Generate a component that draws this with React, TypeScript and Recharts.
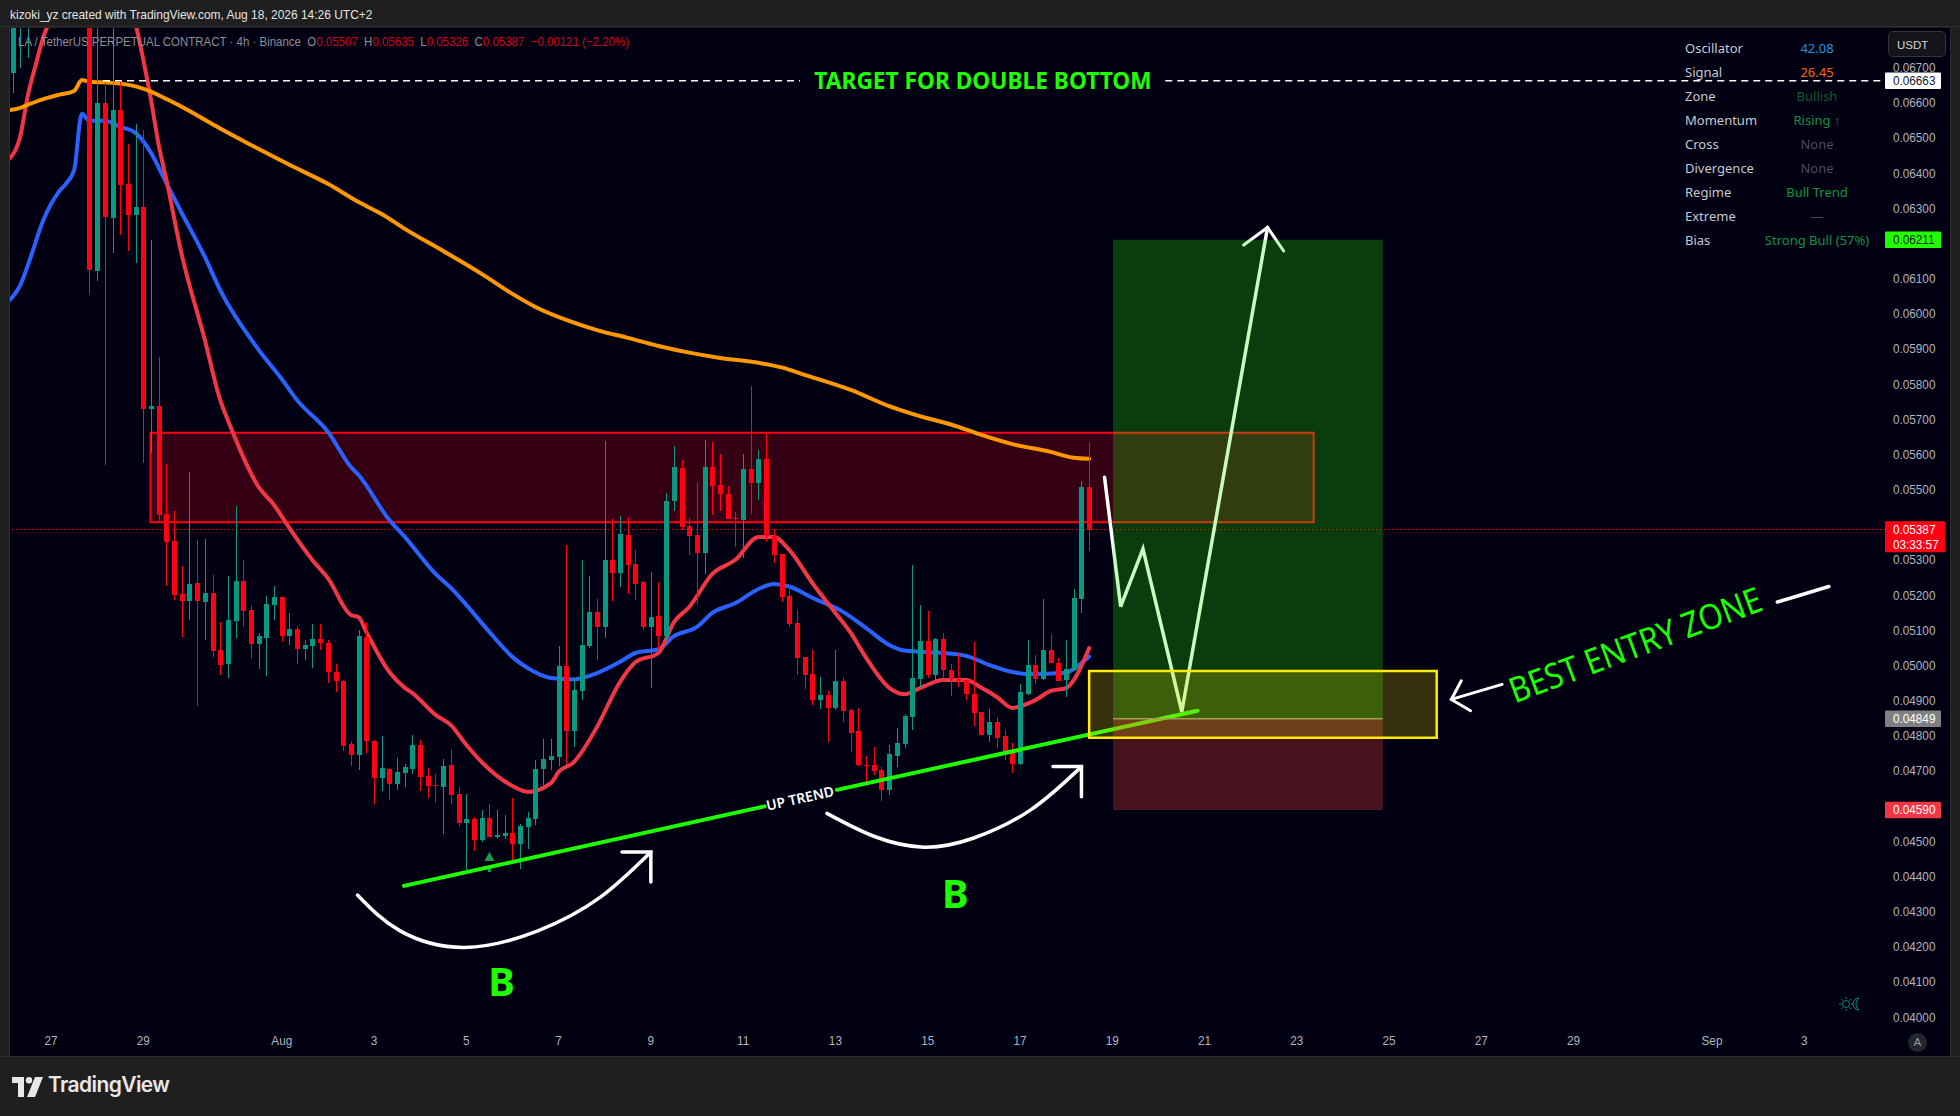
import React from "react";
import { ComposedChart, XAxis, YAxis, Bar, Line, ReferenceArea, ReferenceLine, ReferenceDot } from "recharts";

// All prices below are in units of 0.00001 USDT. x values are 4h bar numbers.
const UNIT = 100000;
const opens = [6684,6850,6900,null,null,null,null,null,null,null,
7100,6123,6599,6274,6580,6370,6282,6304,5731,5738,
5431,5354,5204,5184,5235,5181,5207,5045,5005,5127,
5241,5158,5062,5079,5173,5195,5084,5104,5048,5056,
5076,5065,4982,4956,4777,4746,5082,4786,4681,4706,
4664,4695,4706,4775,4686,4661,4655,4718,4635,4553,
4564,4504,4567,4513,4516,4524,4493,4541,4564,4706,
4732,4740,4999,4814,4928,5056,5153,5110,5301,5264,
5372,5289,5238,5110,5141,5084,5468,5562,5397,5372,
5320,5565,5514,5488,5420,5414,5559,5519,5588,5369,
5318,5198,5121,5025,4976,4902,4917,4880,4956,4874,
4814,4718,4718,4703,4647,4743,4777,4854,4962,5070,
4974,5076,4988,4962,4959,4919,4868,4803,4840,4800,
4758,4721,4919,5002,4962,5045,5008,4959,4988,5190,5507];
const highs = [7100,7100,7150,null,null,null,null,null,null,null,
7200,7000,6660,7000,6665,6483,6540,6523,6210,5878,
5573,5440,5283,5551,5357,5360,5258,5124,5255,5454,
5301,5173,5093,5198,5227,5195,5150,5113,5073,5119,
5119,5073,5005,4959,4786,5102,5124,4789,4800,4708,
4738,4721,4803,4789,4709,4692,4735,4763,4655,4635,
4570,4590,4607,4590,4576,4624,4550,4584,4732,4792,
4792,5056,5343,4965,5301,5255,5190,5639,5417,5426,
5423,5329,5241,5266,5238,5491,5625,5585,5420,5519,
5642,5636,5602,5511,5437,5602,5795,5613,5659,5389,
5318,5229,5158,5025,5045,4968,4928,5045,4968,4877,
4880,4743,4769,4712,4775,4823,4863,5286,5173,5155,
5079,5093,5005,5036,4959,5067,4868,4877,4854,4817,
4780,4948,5073,5030,5190,5090,5022,5073,5218,5525,5635];
const lows = [6629,6700,6729,null,null,null,null,null,null,null,
6058,6095,5571,6173,6225,6180,6146,5577,5604,5412,
5227,5187,5082,5130,4885,5073,5025,4974,4965,5079,
5110,5019,4991,4971,5130,5067,5059,5005,5016,4994,
5045,4951,4925,4757,4715,4703,4752,4607,4644,4618,
4647,4655,4692,4644,4624,4610,4521,4607,4541,4419,
4473,4499,4513,4507,4507,4445,4422,4479,4547,4661,
4703,4715,4721,4769,4902,5050,5016,5079,5184,5224,
5204,5187,5102,4937,5045,5073,5440,5386,5315,5173,
5261,5428,5440,5417,5338,5306,5431,5471,5352,5292,
5181,5110,4974,4934,4888,4877,4783,4874,4840,4755,
4715,4666,4689,4615,4632,4712,4766,4817,4937,4965,
4951,4965,4914,4939,4902,4829,4803,4783,4766,4732,
4695,4718,4917,4948,4959,5008,4956,4911,4985,5150,5326];
const closes = [7000,7050,7100,null,null,null,null,null,null,null,
6126,6599,6277,6580,6368,6282,6304,5731,5738,5429,
5352,5201,5184,5232,5184,5207,5042,5002,5130,5241,
5156,5062,5084,5175,5195,5084,5104,5048,5059,5076,
5065,4982,4956,4772,4746,5084,4786,4681,4709,4664,
4698,4712,4775,4683,4658,4659,4715,4632,4553,4564,
4504,4567,4513,4519,4524,4493,4544,4567,4706,4735,
4743,4999,4814,4931,5059,5153,5110,5301,5264,5374,
5286,5232,5110,5139,5084,5468,5565,5394,5369,5320,
5565,5511,5488,5417,5418,5559,5519,5588,5369,5315,
5195,5118,5022,4974,4902,4917,4880,4956,4871,4809,
4718,4716,4701,4647,4749,4780,4857,4965,5070,4974,
5076,4988,4962,4959,4919,4866,4803,4840,4795,4755,
4721,4925,5002,4962,5045,5008,4956,4991,5193,5508,5387];

const orangeX = [0.66,2,3,5,7,9,10,11,14,17,19,21,23,26,28,33,37,42,46,49,52,57,62,66,69,73,77,81,85,89,93,98,101,104,110,115,118,124,127,131,136,139,141];
const orangeY = [6580,6586,6595,6611,6623,6634,6665,6660,6657,6647,6632,6611,6589,6552,6527,6469,6424,6370,6318,6284,6242,6179,6114,6057,6020,5983,5954,5932,5909,5890,5875,5861,5848,5827,5784,5738,5716,5679,5656,5630,5608,5591,5588];
const blueX = [0.66,2,3,5,7,8,9,10,11,13,15,17,19,21,23,26,28,33,36,38,42,45,46,50,52,56,58,60,63,66,68,71,74,77,80,82,85,87,90,92,95,98,100,102,105,109,112,115,117,122,125,128,131,133,138,139,141];
const blueY = [6040,6082,6139,6267,6347,6372,6409,6569,6549,6549,6532,6515,6458,6372,6287,6162,6068,5898,5815,5755,5665,5565,5542,5414,5366,5261,5221,5173,5096,5025,4993,4965,4961,4979,5011,5036,5047,5084,5110,5150,5178,5218,5232,5225,5193,5153,5107,5059,5043,5036,5028,5002,4982,4976,4980,4991,5026];
const redX = [0.66,2,3,4,5,6,8,10,12,14,16,17,18,19,20,21,23,26,28,29,33,35,37,40,42,45,46,47,50,52,53,56,58,60,62,66,68,71,72,74,75,77,80,82,85,87,89,92,95,98,100,102,105,108,110,112,115,117,119,122,125,127,129,131,134,136,138,139,141];
const redY = [6443,6506,6623,6708,6788,6842,6980,7100,7200,7080,6880,6822,6722,6608,6480,6381,6168,5926,5755,5698,5508,5457,5391,5300,5249,5144,5138,5096,4982,4937,4922,4860,4831,4775,4726,4658,4641,4666,4698,4726,4754,4826,4954,5010,5036,5124,5167,5261,5301,5366,5366,5329,5235,5150,5093,5022,4937,4919,4936,4959,4959,4937,4911,4880,4902,4928,4936,4959,5050];

const trendLeftX = [51.9, 98.8];
const trendLeftY = [4374, 4600];
const trendRightX = [108.2, 155.1];
const trendRightY = [4647, 4872];
const arcOneX = [45.85,51.4,59.8,69.3,77.4,84];
const arcOneY = [4348,4246,4199,4246,4341,4470];
const arcOneHeadX = [80.25,84,84];
const arcOneHeadY = [4470,4470,4385];
const arcTwoX = [106.9,113,119.5,126,133.4,140];
const arcTwoY = [4580,4515,4484,4510,4590,4713];
const arcTwoHeadX = [136.3,140,140];
const arcTwoHeadY = [4713,4713,4627];
const pathX = [143,145.1,148,153.05,164.2];
const pathY = [5536,5168,5332,4869,6246];
const pathHeadX = [161.1,164.2,166.3];
const pathHeadY = [6196,6246,6179];
const entryArrowX = [194.7,188.1];
const entryArrowY = [4947,4904];
const entryHeadX = [189.4,188.1,190.6];
const entryHeadY = [4957,4904,4872];
const entryDashX = [230.5,237.2];
const entryDashY = [5181,5225];

// 0.04600, 0.05400 and 0.06200 sit under the price badges in the reference.
const priceTicks = [4000,4100,4200,4300,4400,4500,4700,4800,4900,5000,5100,5200,5300,5500,5600,5700,5800,5900,6000,6100,6300,6400,6500,6600,6700];
const timeTicks = [6,18,36,48,60,72,84,96,108,120,132,144,156,168,180,192,204,222,234];
const timeLabels = ["27","29","Aug","3","5","7","9","11","13","15","17","19","21","23","25","27","29","Sep","3"];

const TARGET = 6663, TP = 6211, ENTRY = 4849, SL = 4590, LAST = 5387;
const FONT = '"Liberation Sans", Arial, sans-serif';
const TITLE_FONT = '"Noto Sans", sans-serif';
const LIME = "#1eff00";
const UP = "#089981";
const DOWN = "#ff0015";
const BODY = 5;
const NARROW = 0.87;

const panelRows = [
  ["Oscillator", "42.08", "#1e96dc"],
  ["Signal", "26.45", "#f9660f"],
  ["Zone", "Bullish", "#0d5c2c"],
  ["Momentum", "Rising ↑", "#0f9440"],
  ["Cross", "None", "#4d4d58"],
  ["Divergence", "None", "#4d4d58"],
  ["Regime", "Bull Trend", "#0f9440"],
  ["Extreme", "—", "#4d4d58"],
  ["Bias", "Strong Bull (57%)", "#0f9440"],
];

const px = (v: number) => v / UNIT;
const rows = (xs: number[], ys: number[]) => xs.map((i, k) => ({ i, v: px(ys[k]) }));

const candles = opens
  .map((o, k) => ({ i: k + 1, o, h: highs[k], l: lows[k], c: closes[k] }))
  .filter((d) => d.o !== null)
  .map((d) => ({ i: d.i, o: px(d.o as number), h: px(d.h as number), l: px(d.l as number), c: px(d.c as number) }));

function Candle(p: any) {
  const { x, y, width, height, payload } = p;
  const span = payload.h - payload.l;
  const toY = (v: number) => y + ((payload.h - v) / span) * height;
  const top = toY(Math.max(payload.o, payload.c));
  const bot = toY(Math.min(payload.o, payload.c));
  const col = payload.c >= payload.o ? UP : DOWN;
  const mid = Math.round(x + width / 2);
  return (
    <g shapeRendering="crispEdges">
      <line x1={mid + 0.5} x2={mid + 0.5} y1={y} y2={y + height} stroke={col} strokeWidth={1} />
      <rect x={mid - 2} y={top} width={BODY} height={Math.max(bot - top, 1.5)} fill={col} />
    </g>
  );
}

const narrowText = (t: string, x: number, y: number, fill: string, anchor: string = "start") => (
  <text
    key={t}
    transform={`translate(${x} ${y}) scale(${NARROW} 1)`}
    fontSize={13.5}
    fontFamily={FONT}
    fill={fill}
    textAnchor={anchor}
    dominantBaseline="central"
  >
    {t}
  </text>
);

const PriceTick = (p: any) => narrowText(p.payload.value.toFixed(5), p.x, p.y, "#b2b5be");
const TimeTick = (p: any) => narrowText(timeLabels[timeTicks.indexOf(p.payload.value)], p.x, p.y + 5, "#b2b5be", "middle");

const badge = (fill: string, color: string, lines: string[]) => (p: any) => {
  const h = lines.length > 1 ? 31 : 16.5;
  const top = p.cy - 8.2;
  return (
    <g>
      <rect x={p.cx} y={top} width={lines.length > 1 ? 60 : 56} height={h} fill={fill} rx={1} />
      {lines.map((t, k) => narrowText(t, p.cx + 8, top + 8.5 + k * 15, color))}
    </g>
  );
};

const label = (text: string, size: number, weight: number, color: string, rotate: number, fit?: number) => (p: any) => (
  <text
    x={p.cx}
    y={p.cy}
    fontSize={size}
    fontWeight={weight}
    fontFamily={TITLE_FONT}
    fill={color}
    textAnchor="middle"
    dominantBaseline="central"
    textLength={fit}
    lengthAdjust={fit ? "spacingAndGlyphs" : undefined}
    transform={`rotate(${rotate} ${p.cx} ${p.cy})`}
  >
    {text}
  </text>
);

const Tri = (p: any) => (
  <g>
    <path d={`M${p.cx} ${p.cy - 5}L${p.cx + 5} ${p.cy + 4}L${p.cx - 5} ${p.cy + 4}Z`} fill="#1a9a4a" />
    <rect x={p.cx - 1.5} y={p.cy + 12} width={3} height={3} fill="#1a9a4a" />
  </g>
);

const wl = (xs: number[], ys: number[], stroke: string, width: number, z: number, type: any = "linear") => (
  <Line
    data={rows(xs, ys)}
    dataKey="v"
    type={type}
    stroke={stroke}
    strokeWidth={width}
    dot={false}
    activeDot={false}
    legendType="none"
    strokeLinecap="round"
    strokeLinejoin="miter"
    isAnimationActive={false}
    zIndex={z}
  />
);

const abs = (s: any): any => ({ position: "absolute", whiteSpace: "pre", fontFamily: FONT, ...s });

export default function App() {
  return (
    <div style={{ position: "absolute", left: 0, top: 0, width: 1960, height: 1116, background: "#1f1f1f", overflow: "hidden" }}>
      <div style={abs({ left: 10, top: 28, width: 1940, height: 1028, background: "#000012" })} />
      <div style={{ position: "absolute", left: 0, top: 0 }}>
        <ComposedChart width={1960} height={1116} data={candles} margin={{ top: 28, right: 10, bottom: 60, left: 10 }}>
          <XAxis
            dataKey="i"
            type="number"
            domain={[0.66, 244.5]}
            allowDataOverflow
            ticks={timeTicks}
            interval={0}
            axisLine={false}
            tickLine={false}
            tickSize={0}
            height={27}
            tickMargin={7}
            tick={TimeTick}
          />
          <YAxis
            orientation="right"
            type="number"
            domain={[0.03967, 0.06813]}
            allowDataOverflow
            ticks={priceTicks.map(px)}
            interval={0}
            axisLine={false}
            tickLine={false}
            tickSize={0}
            width={65}
            tickMargin={8}
            tick={PriceTick}
          />
          <ReferenceArea x1={18.93} x2={170.2} y1={px(5408)} y2={px(5662)} fill="rgb(252,0,26)" fillOpacity={0.21} stroke={DOWN} strokeWidth={2} zIndex={10} />
          <ReferenceLine y={px(LAST)} stroke={DOWN} strokeWidth={1} strokeDasharray="1 3" zIndex={11} />
          {wl(blueX, blueY, "#2962ff", 4, 20, "monotone")}
          {wl(redX, redY, "#f23645", 4, 21, "monotone")}
          {wl(orangeX, orangeY, "#ff9800", 4, 22, "monotone")}
          <Bar dataKey={(d: any) => [d.l, d.h]} barSize={5} shape={Candle} isAnimationActive={false} zIndex={30} />
          {wl(trendLeftX, trendLeftY, LIME, 4, 40)}
          {wl(trendRightX, trendRightY, LIME, 4, 40)}
          {wl(pathX, pathY, "#ffffff", 3.5, 41)}
          {wl(pathHeadX, pathHeadY, "#ffffff", 3, 41)}
          {wl(arcOneX, arcOneY, "#ffffff", 3.5, 42, "natural")}
          {wl(arcOneHeadX, arcOneHeadY, "#ffffff", 3.5, 42)}
          {wl(arcTwoX, arcTwoY, "#ffffff", 3.5, 42, "natural")}
          {wl(arcTwoHeadX, arcTwoHeadY, "#ffffff", 3.5, 42)}
          {wl(entryArrowX, entryArrowY, "#ffffff", 3, 42)}
          {wl(entryHeadX, entryHeadY, "#ffffff", 3, 42)}
          {wl(entryDashX, entryDashY, "#ffffff", 3.5, 42)}
          <ReferenceArea x1={144.1} x2={179.2} y1={px(ENTRY)} y2={px(TP)} fill="rgb(40,240,2)" fillOpacity={0.25} zIndex={50} />
          <ReferenceArea x1={144.1} x2={179.2} y1={px(SL)} y2={px(ENTRY)} fill="rgb(254,68,64)" fillOpacity={0.28} zIndex={50} />
          <ReferenceLine segment={[{ x: 144.1, y: px(ENTRY) }, { x: 179.2, y: px(ENTRY) }]} stroke="#8f8f6a" strokeWidth={1.5} zIndex={51} />
          <ReferenceArea x1={141} x2={186.2} y1={px(4795)} y2={px(4985)} fill="rgb(255,225,0)" fillOpacity={0.21} stroke="#ffea00" strokeWidth={2.5} zIndex={52} />
          <ReferenceLine segment={[{ x: 12.76, y: px(TARGET) }, { x: 103.4, y: px(TARGET) }]} stroke="#ffffff" strokeWidth={1.5} strokeDasharray="7 5" zIndex={53} />
          <ReferenceLine segment={[{ x: 150.9, y: px(TARGET) }, { x: 244.5, y: px(TARGET) }]} stroke="#ffffff" strokeWidth={1.5} strokeDasharray="7 5" zIndex={53} />
          <ReferenceDot x={127.2} y={px(6663)} shape={label("TARGET FOR DOUBLE BOTTOM", 22.7, 700, LIME, 0)} zIndex={60} />
          <ReferenceDot x={103.4} y={px(4624)} shape={label("UP TREND", 14, 600, "#ffffff", -12.5)} zIndex={60} />
          <ReferenceDot x={64.6} y={px(4106)} shape={label("B", 40, 700, LIME, 0)} zIndex={60} />
          <ReferenceDot x={123.6} y={px(4356)} shape={label("B", 40, 700, LIME, 0)} zIndex={60} />
          <ReferenceDot x={212} y={px(5062)} shape={label("BEST ENTRY ZONE", 35, 400, LIME, -20.6, 267)} zIndex={60} />
          <ReferenceDot x={63} y={px(4456)} shape={Tri} zIndex={35} />
          <ReferenceDot x={244.5} y={px(TARGET)} ifOverflow="visible" shape={badge("#ffffff", "#131722", [(TARGET / UNIT).toFixed(5)])} zIndex={700} />
          <ReferenceDot x={244.5} y={px(TP)} ifOverflow="visible" shape={badge("#22ff00", "#131722", [(TP / UNIT).toFixed(5)])} zIndex={700} />
          <ReferenceDot x={244.5} y={px(LAST)} ifOverflow="visible" shape={badge(DOWN, "#ffffff", [(LAST / UNIT).toFixed(5), "03:33:57"])} zIndex={700} />
          <ReferenceDot x={244.5} y={px(ENTRY)} ifOverflow="visible" shape={badge("#808080", "#ffffff", [(ENTRY / UNIT).toFixed(5)])} zIndex={700} />
          <ReferenceDot x={244.5} y={px(SL)} ifOverflow="visible" shape={badge("#f23645", "#ffffff", [(SL / UNIT).toFixed(5)])} zIndex={700} />
        </ComposedChart>
      </div>

      <div style={abs({ left: 0, top: 0, width: 1960, height: 27, background: "#1f1f1f", borderBottom: "1px solid #2e2e2e", boxSizing: "border-box" })} />
      <div style={abs({ left: 9, top: 27, width: 1, height: 1029, background: "#2e2e2e" })} />
      <div style={abs({ left: 0, top: 27, width: 9, height: 1089, background: "#1f1f1f" })} />
      <div style={abs({ left: 1950, top: 27, width: 10, height: 1089, background: "#1f1f1f", borderLeft: "1px solid #2e2e2e", boxSizing: "border-box" })} />
      <div style={abs({ left: 0, top: 1056, width: 1960, height: 60, background: "#1f1f1f", borderTop: "1px solid #2e2e2e", boxSizing: "border-box" })} />

      <div style={abs({ left: 10, top: 7, fontSize: 13, transform: "scaleX(0.92)", transformOrigin: "left top", color: "#e4e4e4" })}>kizoki_yz created with TradingView.com, Aug 18, 2026 14:26 UTC+2</div>
      <div style={abs({ left: 18, top: 34, fontSize: 13.5, transform: "scaleX(0.85)", transformOrigin: "left top", color: "#8f8f94" })}>
        {"LA / TetherUS PERPETUAL CONTRACT · 4h · Binance  O"}
        <span style={{ color: "#d8001a" }}>0.05507</span>{"  H"}
        <span style={{ color: "#d8001a" }}>0.05635</span>{"  L"}
        <span style={{ color: "#d8001a" }}>0.05326</span>{"  C"}
        <span style={{ color: "#d8001a" }}>0.05387</span>
        <span style={{ color: "#d8001a" }}>{"  −0.00121 (−2.20%)"}</span>
      </div>

      {panelRows.map((r, k) => (
        <React.Fragment key={r[0]}>
          <div style={abs({ left: 1685, top: 39 + k * 24, fontFamily: TITLE_FONT, fontSize: 13, color: "#c8cad0" })}>{r[0]}</div>
          <div style={abs({ left: 1717, width: 200, textAlign: "center", top: 39 + k * 24, fontFamily: TITLE_FONT, fontSize: 13, color: r[2] })}>{r[1]}</div>
        </React.Fragment>
      ))}

      <div style={abs({ left: 1888, top: 31, width: 58, height: 26, boxSizing: "border-box", background: "#14141a", border: "1px solid #33333a", borderRadius: 5, color: "#d1d4dc", fontSize: 11.5, lineHeight: "26px", paddingLeft: 8 })}>USDT</div>

      <svg style={{ position: "absolute", left: 1838, top: 994 }} width={24} height={20} viewBox="0 0 24 20" fill="none" stroke="#0a8f78" strokeWidth={1}>
        <circle cx={8} cy={10} r={3.5} />
        <path d="M8 3v2M8 15v2M1 10h2M13 10h2M3 5l1.5 1.5M13 5l-1.5 1.5M3 15l1.5-1.5M13 15l-1.5-1.5" />
        <path d="M21 4a6 6 0 0 0 0 12a7.5 7.5 0 0 1 0-12Z" />
      </svg>
      <div style={abs({ left: 1908, top: 1033, width: 19, height: 19, borderRadius: 10, background: "#25252d", color: "#9a9aa2", fontSize: 11, lineHeight: "19px", textAlign: "center" })}>A</div>

      <svg style={{ position: "absolute", left: 12, top: 1077 }} width={31} height={20} viewBox="0 0 31 20" fill="#e8e8e8">
        <path d="M0 0h12v20h-6v-14h-6z" />
        <circle cx={17} cy={3.2} r={3.2} />
        <path d="M23 0h8l-8 20h-8z" />
      </svg>
      <div style={abs({ left: 48, top: 1072, fontFamily: '"Inter", sans-serif', fontSize: 21, fontWeight: 600, letterSpacing: -0.6, color: "#e8e8e8" })}>TradingView</div>
    </div>
  );
}
